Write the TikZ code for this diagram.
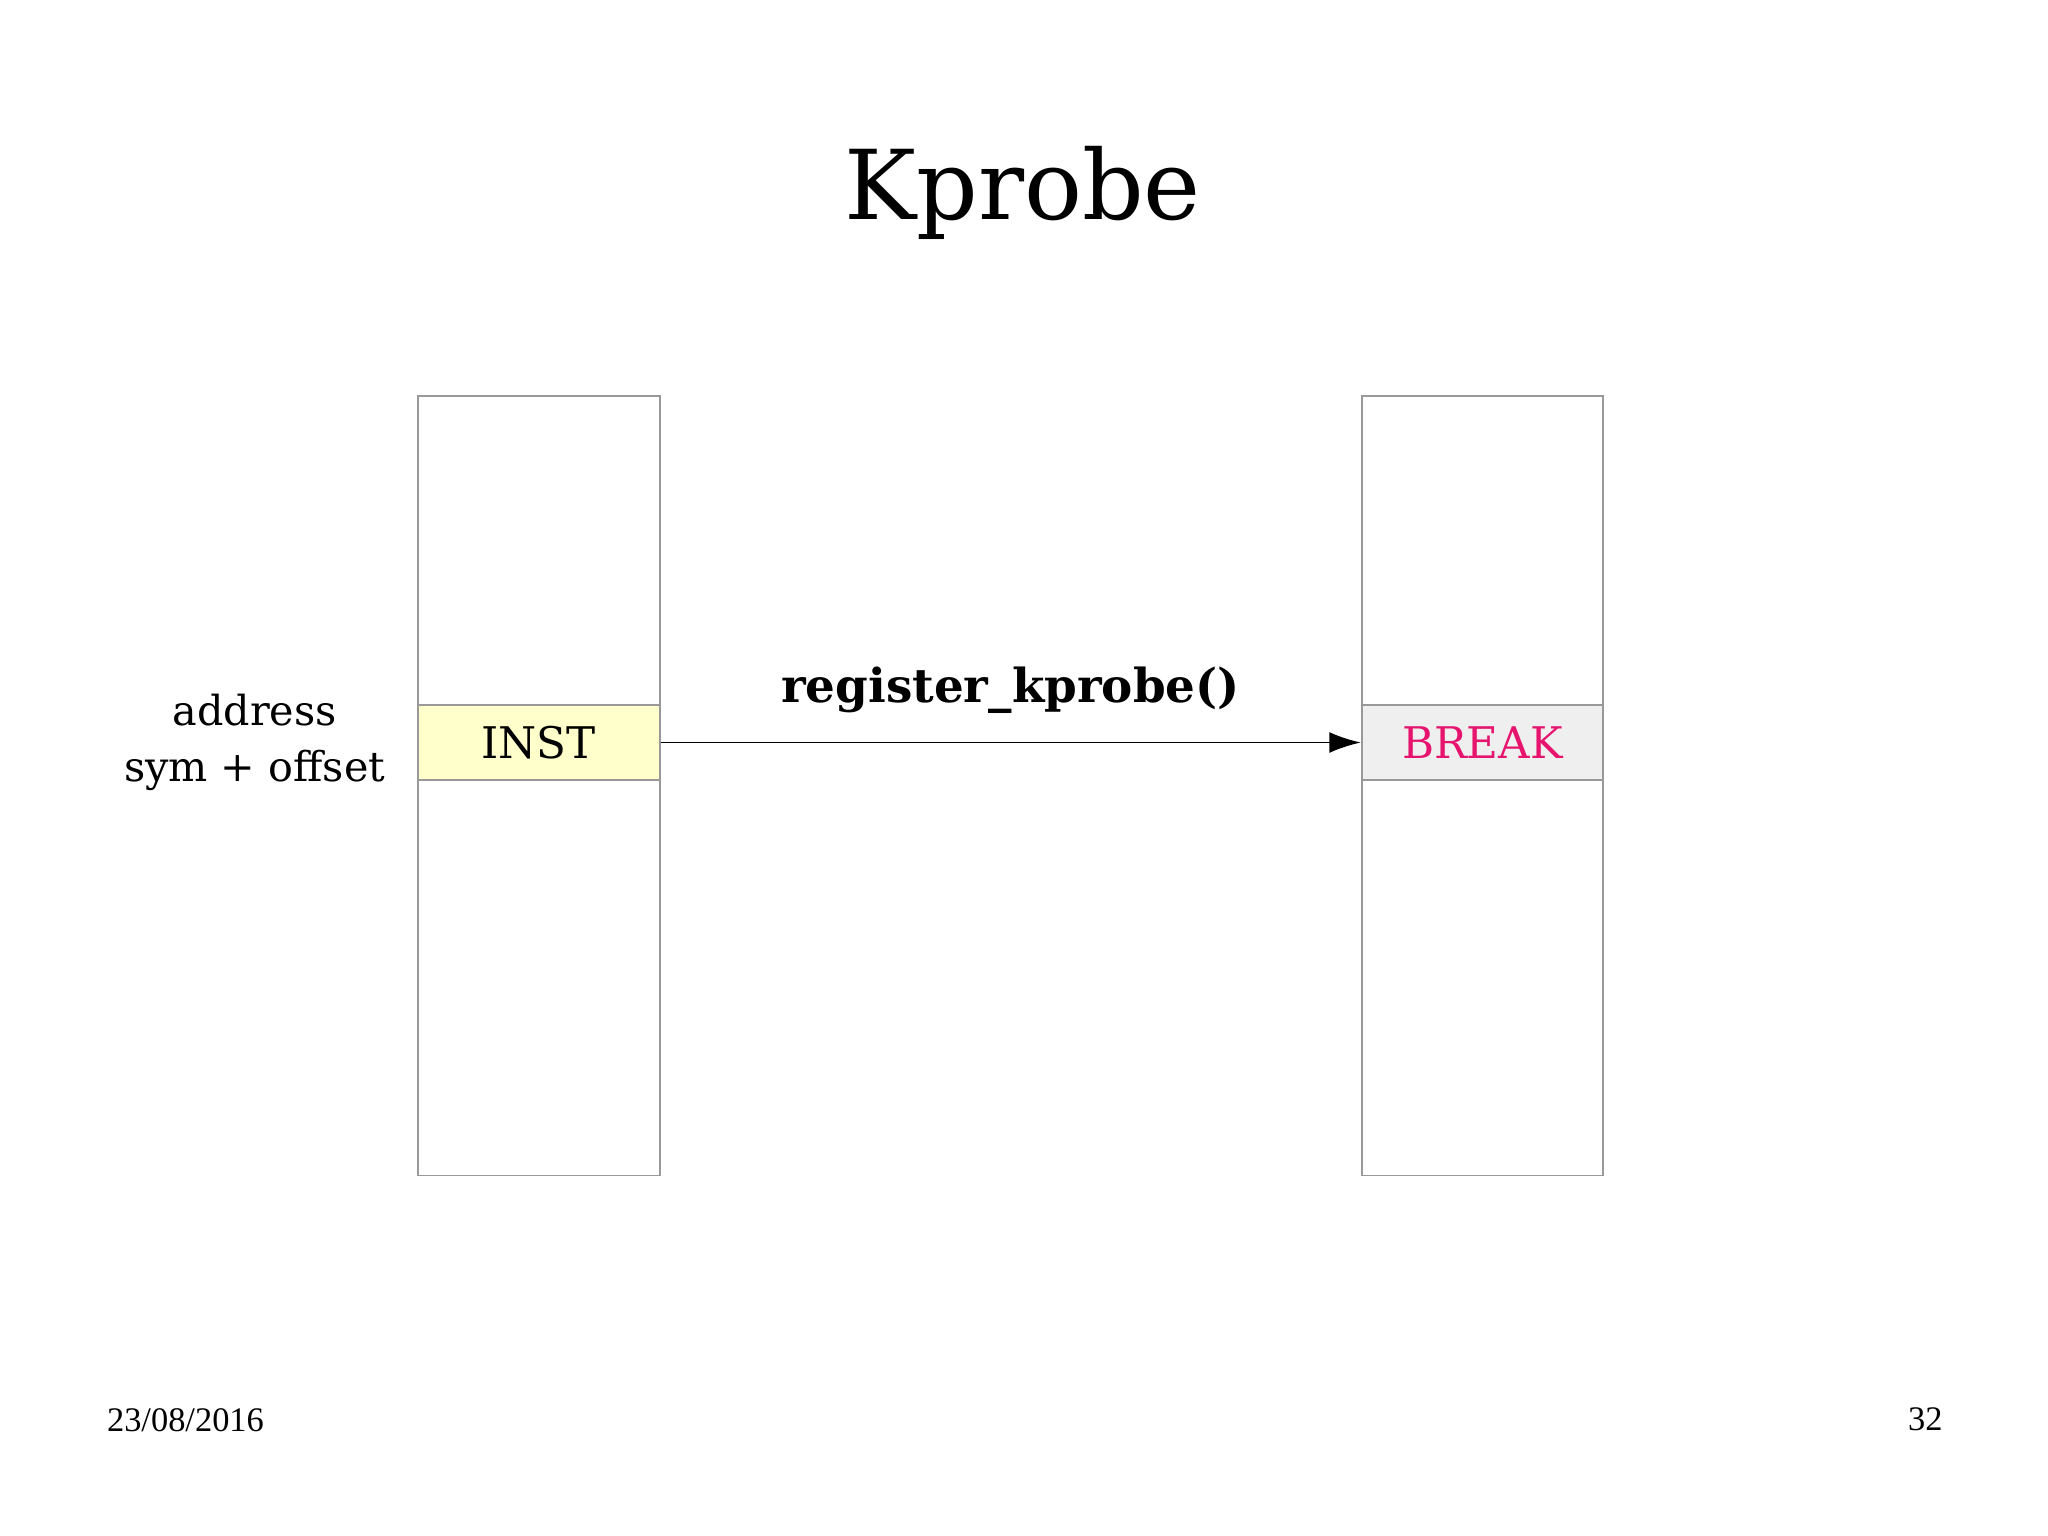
\documentclass[tikz,border=0pt]{standalone}
\usepackage{fontspec}
\setmainfont{DejaVu Serif}
\newfontfamily\footfont{Liberation Serif}
\usetikzlibrary{arrows.meta,positioning}
\definecolor{instyellow}{HTML}{FFFFCC}
\definecolor{breakgray}{HTML}{EFEFEF}
\definecolor{breakred}{HTML}{E6146E}
\begin{document}
\begin{tikzpicture}[
  mem/.style={draw=gray!80,minimum width=1.85cm,minimum height=5.97cm,inner sep=0pt},
  cell/.style={draw=gray!80,minimum width=1.85cm,minimum height=0.57cm,inner sep=0pt,font=\fontsize{9.5}{11}\selectfont},
  to/.style={-{Latex[length=2.4mm,width=1.6mm]},thin},
  every node/.style={align=center}]
  \useasboundingbox (0,0) rectangle (15.68,11.76);

  % memory columns
  \node[mem] (left) at (4.125,5.745) {};
  \node[mem] (right) at (11.35,5.745) {};
  \node[cell,fill=instyellow] (inst) at (4.125,6.075) {INST};
  \node[cell,fill=breakgray,text=breakred] (break) at (11.35,6.075) {BREAK};

  % labels
  \node[font=\fontsize{21}{24}\selectfont] (title) at (7.83,10.28) {Kprobe};
  \node[left=0.12cm of inst,font=\fontsize{9}{12.2}\selectfont] (addr) {address\\sym + offset};

  % arrow
  \draw[to] (inst) -- node[above=0.1cm,font=\bfseries\fontsize{10.2}{12}\selectfont] (call) {register\_kprobe()} (break);

  % footer
  \node[font=\footfont\fontsize{7.5}{9}\selectfont] (date) at (1.42,0.89) {23/08/2016};
  \node[font=\footfont\fontsize{7.5}{9}\selectfont] (page) at (14.74,0.89) {32};
\end{tikzpicture}
\end{document}
